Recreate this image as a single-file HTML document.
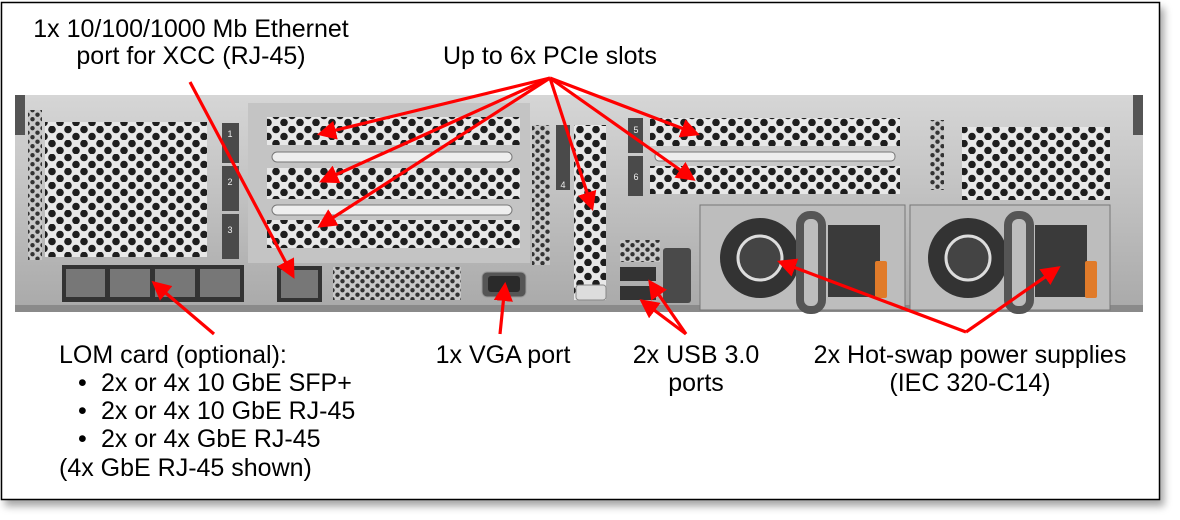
<!DOCTYPE html>
<html><head><meta charset="utf-8"><style>
html,body{margin:0;padding:0;background:#fff;}
svg{display:block;}
text{font-family:"Liberation Sans",Arial,sans-serif;font-size:25px;fill:#000;}
</style></head><body>
<svg width="1180" height="520" viewBox="0 0 1180 520" xmlns="http://www.w3.org/2000/svg">
<defs>
<pattern id="hex" width="16" height="14" patternUnits="userSpaceOnUse">
<rect width="16" height="14" fill="#e8e8e8"/>
<circle cx="4" cy="3.5" r="3.8" fill="#1e1e1e"/><circle cx="12" cy="10.5" r="3.8" fill="#1e1e1e"/>
</pattern>
<pattern id="hexs" width="10" height="9" patternUnits="userSpaceOnUse">
<rect width="10" height="9" fill="#c8c8c8"/>
<circle cx="2.5" cy="2.2" r="2.2" fill="#333"/><circle cx="7.5" cy="6.7" r="2.2" fill="#333"/>
</pattern>
<linearGradient id="ch" x1="0" y1="0" x2="0" y2="1">
<stop offset="0" stop-color="#d6d6d6"/><stop offset="1" stop-color="#a9a9a9"/>
</linearGradient>
<marker id="ah" markerWidth="6" markerHeight="6" refX="5" refY="3" orient="auto" markerUnits="strokeWidth">
<path d="M0,0 L6,3 L0,6 Z" fill="#f00"/>
</marker>
<filter id="sh" x="-5%" y="-5%" width="110%" height="115%"><feDropShadow dx="4" dy="6" stdDeviation="4" flood-color="#000" flood-opacity="0.35"/></filter>
</defs>
<rect x="1.5" y="2.5" width="1158" height="497" fill="#fff" stroke="#000" stroke-width="1.5" filter="url(#sh)"/>

<rect x="15" y="95" width="1128" height="217" fill="url(#ch)"/>
<rect x="15" y="305" width="1128" height="7" fill="#8a8a8a"/>
<rect x="15" y="95" width="10" height="40" fill="#555"/>
<rect x="1133" y="95" width="10" height="40" fill="#555"/>
<rect x="45" y="122" width="162" height="135" fill="url(#hex)"/>
<rect x="28" y="110" width="14" height="150" fill="url(#hexs)"/>
<rect x="222" y="123" width="17" height="40" fill="#4a4a4a"/>
<rect x="222" y="166" width="17" height="45" fill="#4a4a4a"/>
<rect x="222" y="214" width="17" height="45" fill="#4a4a4a"/>
<text x="230" y="137" text-anchor="middle" style="fill:#eee;font-size:9px">1</text>
<text x="230" y="185" text-anchor="middle" style="fill:#eee;font-size:9px">2</text>
<text x="230" y="233" text-anchor="middle" style="fill:#eee;font-size:9px">3</text>
<rect x="248" y="103" width="282" height="160" fill="#c4c4c4"/>
<rect x="267" y="117" width="253" height="28" fill="url(#hex)"/>
<rect x="272" y="152" width="240" height="10" rx="5" fill="#eee" stroke="#777"/>
<rect x="267" y="168" width="253" height="31" fill="url(#hex)"/>
<rect x="272" y="205" width="240" height="10" rx="5" fill="#eee" stroke="#777"/>
<rect x="267" y="220" width="253" height="28" fill="url(#hex)"/>
<rect x="532" y="125" width="18" height="140" fill="url(#hexs)"/>
<rect x="556" y="125" width="14" height="65" fill="#4a4a4a"/>
<text x="563" y="188" style="fill:#eee;font-size:9px" text-anchor="middle">4</text>
<rect x="574" y="125" width="32" height="175" fill="url(#hex)"/>
<rect x="576" y="285" width="30" height="15" rx="3" fill="#ddd" stroke="#888"/>
<rect x="628" y="118" width="15" height="35" fill="#4a4a4a"/>
<rect x="628" y="156" width="15" height="40" fill="#4a4a4a"/>
<text x="636" y="133" style="fill:#eee;font-size:9px" text-anchor="middle">5</text>
<text x="636" y="180" style="fill:#eee;font-size:9px" text-anchor="middle">6</text>
<rect x="650" y="118" width="250" height="28" fill="url(#hex)"/>
<rect x="655" y="152" width="240" height="9" rx="4" fill="#eee" stroke="#777"/>
<rect x="650" y="166" width="250" height="28" fill="url(#hex)"/>
<rect x="930" y="120" width="14" height="70" fill="url(#hexs)"/>
<rect x="962" y="127" width="148" height="73" fill="url(#hex)"/>
<rect x="62" y="265" width="182" height="37" fill="#333"/>
<rect x="66" y="269" width="39" height="28" fill="#777"/><rect x="110" y="269" width="40" height="28" fill="#777"/>
<rect x="155" y="269" width="40" height="28" fill="#777"/><rect x="200" y="269" width="40" height="28" fill="#777"/>
<rect x="277" y="266" width="45" height="36" fill="#333"/><rect x="281" y="270" width="37" height="28" fill="#777"/>
<rect x="333" y="267" width="128" height="33" fill="url(#hexs)"/>
<rect x="482" y="272" width="44" height="25" rx="5" fill="#555" stroke="#999"/>
<rect x="488" y="276" width="32" height="16" rx="3" fill="#2a2a2a"/>
<rect x="620" y="267" width="36" height="14" fill="#333"/>
<rect x="620" y="286" width="36" height="14" fill="#333"/>
<rect x="620" y="240" width="40" height="22" fill="url(#hexs)"/>
<rect x="663" y="248" width="28" height="55" rx="3" fill="#4a4a4a"/>
<g>
<rect x="700" y="205" width="205" height="105" fill="#bdbdbd" stroke="#777"/>
<circle cx="760" cy="258" r="40" fill="#333"/><circle cx="760" cy="258" r="22" fill="#444" stroke="#ddd" stroke-width="3"/>
<rect x="800" y="215" width="22" height="95" rx="10" fill="none" stroke="#555" stroke-width="8"/>
<rect x="828" y="225" width="52" height="72" fill="#3a3a3a"/>
<rect x="875" y="261" width="12" height="37" rx="2" fill="#e07b2a"/>
</g>
<g>
<rect x="910" y="205" width="200" height="105" fill="#bdbdbd" stroke="#777"/>
<circle cx="968" cy="258" r="40" fill="#333"/><circle cx="968" cy="258" r="22" fill="#444" stroke="#ddd" stroke-width="3"/>
<rect x="1008" y="215" width="22" height="95" rx="10" fill="none" stroke="#555" stroke-width="8"/>
<rect x="1035" y="225" width="52" height="72" fill="#3a3a3a"/>
<rect x="1085" y="261" width="12" height="37" rx="2" fill="#e07b2a"/>
</g>

<g stroke="#f00" stroke-width="3.2" fill="none" marker-end="url(#ah)">
<line x1="190" y1="82" x2="293" y2="276"/>
<line x1="550" y1="78" x2="320" y2="134"/>
<line x1="550" y1="78" x2="322" y2="181"/>
<line x1="550" y1="78" x2="320" y2="226"/>
<line x1="550" y1="78" x2="592" y2="208"/>
<line x1="550" y1="78" x2="697" y2="134"/>
<line x1="550" y1="78" x2="693" y2="179"/>
<line x1="214" y1="334" x2="154" y2="283"/>
<line x1="500" y1="334" x2="505" y2="285"/>
<line x1="686" y1="334" x2="650" y2="282"/>
<line x1="686" y1="334" x2="642" y2="301"/>
<line x1="966" y1="332" x2="780" y2="262"/>
<line x1="966" y1="332" x2="1058" y2="268"/>
</g>

<text x="191" y="37" text-anchor="middle">1x 10/100/1000 Mb Ethernet</text>
<text x="191" y="64" text-anchor="middle">port for XCC (RJ-45)</text>
<text x="550" y="64" text-anchor="middle">Up to 6x PCIe slots</text>
<text x="59" y="363">LOM card (optional):</text>
<text x="78" y="391">•</text><text x="101" y="391">2x or 4x 10 GbE SFP+</text>
<text x="78" y="419">•</text><text x="101" y="419">2x or 4x 10 GbE RJ-45</text>
<text x="78" y="447">•</text><text x="101" y="447">2x or 4x GbE RJ-45</text>
<text x="59" y="476">(4x GbE RJ-45 shown)</text>
<text x="503" y="363" text-anchor="middle">1x VGA port</text>
<text x="696" y="363" text-anchor="middle">2x USB 3.0</text>
<text x="696" y="391" text-anchor="middle">ports</text>
<text x="970" y="363" text-anchor="middle">2x Hot-swap power supplies</text>
<text x="970" y="391" text-anchor="middle">(IEC 320-C14)</text>
</svg>
</body></html>
